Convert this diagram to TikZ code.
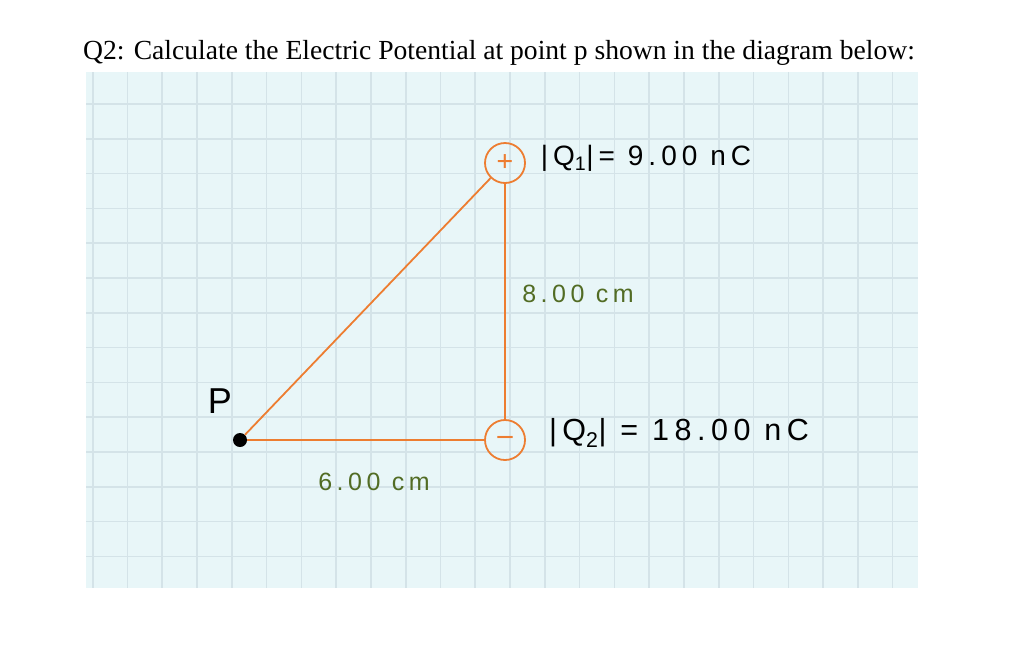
\documentclass[tikz,border=0pt]{standalone}
\usepackage{fontspec}
\setmainfont{Liberation Serif}
\newfontfamily\handfont[LetterSpace=18]{Liberation Sans}
\usepackage{tikz}
\definecolor{paperBlue}{RGB}{232,246,248}
\definecolor{paperLine}{RGB}{212,227,232}
\definecolor{chargeOrange}{RGB}{237,125,49}
\definecolor{lengthGreen}{RGB}{82,108,36}
\usetikzlibrary{positioning}

\tikzset{
    charge/.style={circle, draw=chargeOrange, line width=1.8pt, minimum size=40pt, inner sep=0pt,
        text=chargeOrange, font=\bfseries\fontsize{30}{30}\selectfont},
    side/.style={chargeOrange, line width=1.8pt},
    hand/.style={font=\handfont\fontsize{28}{30}\selectfont},
    length/.style={hand, text=lengthGreen, font=\handfont\fontsize{25}{27}\selectfont}
}

\begin{document}
\begin{tikzpicture}[x=1pt, y=-1pt]
        \useasboundingbox (0,0) rectangle (1024,667);
        \fill[white] (0,0) rectangle (1024,667);
        \node[anchor=base west, inner sep=0pt, font=\fontsize{27.6}{32}\selectfont] (title) at (83,59)
            {Q2: Calculate the Electric Potential at point p shown in the diagram below:};
        % squared paper
        \fill[paperBlue] (86,72) rectangle (918,588);
        \foreach \i in {0,...,23}
            \draw[paperLine, line width=1.6pt] ({92.7+34.78*\i},72) -- ({92.7+34.78*\i},588);
        \foreach \j in {0,...,13}
            \draw[paperLine, line width=1.6pt] (86,{104+34.8*\j}) -- (918,{104+34.8*\j});
        % point and charges
        \node[circle, fill=black, inner sep=0pt, minimum size=14pt] (p) at (240,440) {};
        \node[charge] (q1) at (505,163) {+};
        \node[charge] (q2) at (505,440) {--};
        \draw[side] (p) -- (q1);
        \draw[side] (p) -- (q2);
        \draw[side] (q1) -- (q2);
        % labels
        \node[hand, font=\handfont\fontsize{36}{36}\selectfont] (plabel) at (220,401) {P};
        \node[hand] (q1label) at (646,158) {|Q\textsubscript{1}|= 9.00 nC};
        \node[hand, font=\handfont\fontsize{30.5}{32}\selectfont] (q2label) at (679,433) {|Q\textsubscript{2}| = 18.00 nC};
        \node[length] (vlabel) at (578,294) {8.00 cm};
        \node[length] (hlabel) at (374,482) {6.00 cm};
    \end{tikzpicture}
\end{document}
